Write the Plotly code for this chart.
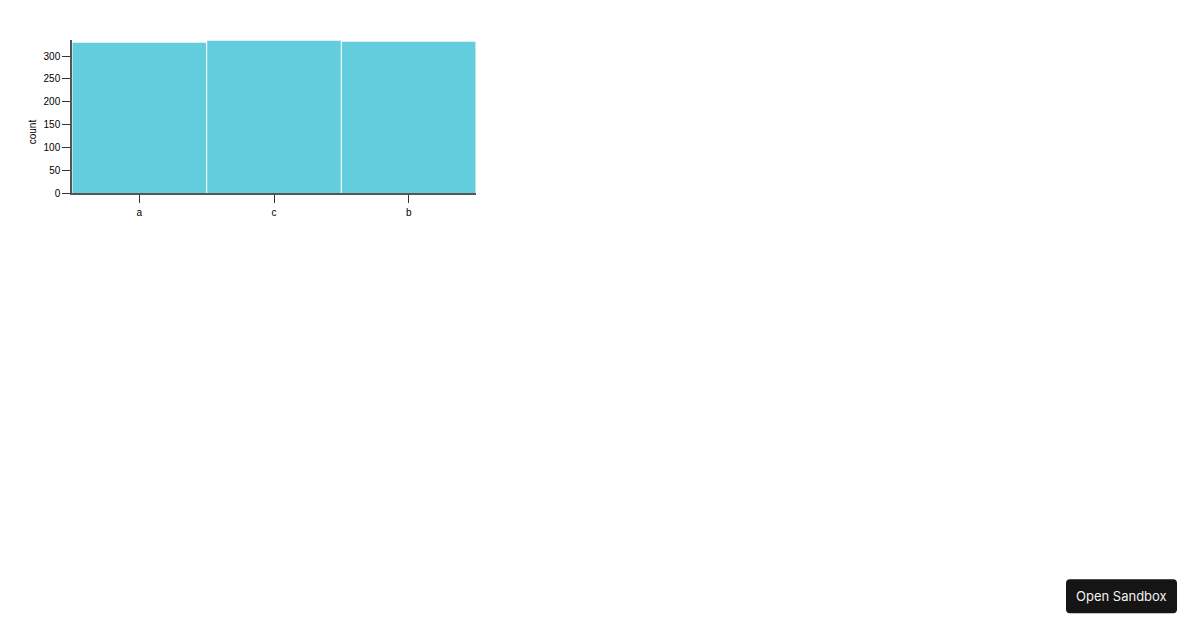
import plotly.graph_objects as go

# data
categories = ["a", "c", "b"]
counts = [329, 334, 331]
y_ticks = [0, 50, 100, 150, 200, 250, 300]

# page has an 8px body margin; the capture also squeezes height by ~1%
OFF = 8
S = 0.99
W, H = 1200 - 2 * OFF, 614


def px(x):
    return (x - OFF) / W


def py(y):
    return 1 - (y / S - OFF) / H


fig = go.Figure()

fig.add_trace(go.Bar(
    x=categories, y=counts,
    marker=dict(color="#63cddd", line=dict(width=0)),
    hoverinfo="x+y",
))

# "Open Sandbox" button, rounded rectangle
x0, x1, y0, y1, r = 1066, 1177, 578, 612, 4
ry = r / H
path = (
    f"M {px(x0 + r)} {py(y0)} L {px(x1 - r)} {py(y0)} "
    f"Q {px(x1)} {py(y0)} {px(x1)} {py(y0) - ry} "
    f"L {px(x1)} {py(y1) + ry} "
    f"Q {px(x1)} {py(y1)} {px(x1 - r)} {py(y1)} "
    f"L {px(x0 + r)} {py(y1)} "
    f"Q {px(x0)} {py(y1)} {px(x0)} {py(y1) + ry} "
    f"L {px(x0)} {py(y0) - ry} "
    f"Q {px(x0)} {py(y0)} {px(x0 + r)} {py(y0)} Z"
)

fig.update_layout(
    width=W, height=H, autosize=False,
    margin=dict(l=0, r=0, t=0, b=0),
    paper_bgcolor="white", plot_bgcolor="white",
    bargap=0.008,
    showlegend=False,
    font=dict(family="Liberation Sans, Arial, sans-serif", size=10, color="#000"),
    xaxis=dict(
        domain=[px(72), px(476)],
        showline=True, linecolor="#555", linewidth=1.5,
        ticks="outside", ticklen=8, tickcolor="#333", tickwidth=1,
        ticklabelstandoff=1,
        showgrid=False, zeroline=False, fixedrange=True,
    ),
    yaxis=dict(
        domain=[py(193), py(40.3)],
        range=[0, max(counts)],
        tickvals=y_ticks,
        showline=True, linecolor="#555", linewidth=1.5,
        ticks="outside", ticklen=8, tickcolor="#333", tickwidth=1,
        showgrid=False, zeroline=False, fixedrange=True,
    ),
    shapes=[dict(type="path", xref="paper", yref="paper", path=path,
                 fillcolor="#151515", line=dict(width=0))],
    annotations=[
        dict(text="count", xref="paper", yref="paper", x=px(25), y=py(117),
             textangle=-90, showarrow=False, font=dict(size=10, color="#000")),
        dict(text="Open Sandbox", xref="paper", yref="paper",
             x=px(1121.5), y=py(595), xanchor="center", yanchor="middle",
             showarrow=False,
             font=dict(family="Inter, Liberation Sans, sans-serif", size=13, color="#f2f2f2")),
    ],
)

fig.write_html("out.html", config=dict(displayModeBar=False))
